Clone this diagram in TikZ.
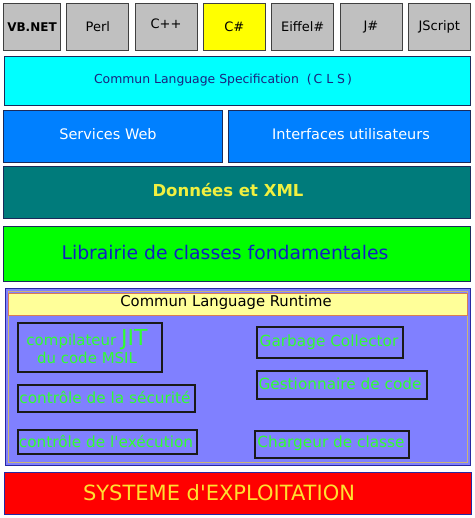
\documentclass[tikz,border=0pt]{standalone}
\usepackage{fontspec}
\setmainfont{DejaVu Sans}
\usetikzlibrary{positioning}
\definecolor{langgrey}{HTML}{C0C0C0}
\definecolor{csyellow}{HTML}{FFFF00}
\definecolor{clscyan}{HTML}{00FFFF}
\definecolor{clsblue}{HTML}{1A237E}
\definecolor{webblue}{HTML}{0080FF}
\definecolor{xmlteal}{HTML}{007B7B}
\definecolor{xmlyellow}{HTML}{F0F040}
\definecolor{libgreen}{HTML}{00FF00}
\definecolor{libblue}{HTML}{1020C0}
\definecolor{clrfill}{HTML}{8080FF}
\definecolor{clrline}{HTML}{2828A0}
\definecolor{clrtan}{HTML}{C8B478}
\definecolor{clrtitle}{HTML}{FFFF99}
\definecolor{clrtext}{HTML}{30FF30}
\definecolor{osred}{HTML}{FF0000}
\definecolor{osyellow}{HTML}{FFE030}
\definecolor{navyline}{HTML}{1A2A5A}

\begin{document}
\begin{tikzpicture}[x=1pt,y=-1pt,node distance=5.3pt,
  lang/.style={draw=black!75,fill=langgrey,line width=1pt,minimum width=62pt,
    minimum height=47pt,inner sep=0pt,font=\fontsize{13}{15}\selectfont},
  layer/.style={draw=navyline,line width=1pt,inner sep=0pt,anchor=north west},
  clrpart/.style={draw=black!90,line width=1.6pt,inner sep=0pt,anchor=north west},
  clrlabel/.style={text=clrtext,font=\fontsize{15.3}{17}\selectfont}]
  \useasboundingbox (0,0) rectangle (474,518);

  % langages
  \node[lang,anchor=north west,minimum width=57pt] (vb) at (3,3) {\bfseries\fontsize{12}{14}\selectfont VB.NET};
  \node[lang] (perl) [right=of vb] {Perl};
  \node[lang] (cpp) [right=of perl] {\raisebox{6pt}{C++}};
  \node[lang,fill=csyellow] (cs) [right=of cpp] {C\#};
  \node[lang] (eiffel) [right=of cs] {Eiffel\#};
  \node[lang] (jsharp) [right=of eiffel] {J\#};
  \node[lang] (jscript) [right=of jsharp] {JScript};

  % couches du framework
  \node[layer,fill=clscyan,minimum width=466pt,minimum height=49pt] (cls) at (4,56) {};
  \node[text=clsblue,font=\fontsize{12.4}{14}\selectfont] (clstext) at (223,80)
    {Commun Language Specification \ (\,C L S\,)};

  \node[layer,fill=webblue,minimum width=219pt,minimum height=52pt] (web) at (3,110) {};
  \node[text=white,font=\fontsize{14.5}{17}\selectfont] (webtext) at (108,134) {Services Web};
  \node[layer,fill=webblue,minimum width=242pt,minimum height=52pt] (ui) at (228,110) {};
  \node[text=white,font=\fontsize{14.5}{17}\selectfont] (uitext) at (351,134) {Interfaces utilisateurs};

  \node[layer,fill=xmlteal,minimum width=467pt,minimum height=52pt] (xml) at (3,166) {};
  \node[text=xmlyellow,font=\fontsize{16.5}{19}\selectfont\bfseries] (xmltext) at (228,190) {Données et XML};

  \node[layer,fill=libgreen,minimum width=467pt,minimum height=55pt] (lib) at (3,226) {};
  \node[text=libblue,font=\fontsize{18.8}{22}\selectfont] (libtext) at (225,252) {Librairie de classes fondamentales};

  % CLR
  \node[layer,draw=clrline,fill=clrfill,line width=1.3pt,minimum width=465pt,minimum height=177pt] (clr) at (5,288) {};
  \node[layer,draw=clrtan,line width=1pt,minimum width=459pt,minimum height=171pt] (clrin) at (8,291) {};
  \node[layer,draw=clrtan!70!red,fill=clrtitle,line width=0.8pt,minimum width=459pt,minimum height=22pt] (clrtitlebar) at (8,293) {};
  \node[font=\fontsize{14.8}{17}\selectfont] (clrtitletext) at (226,302) {Commun Language Runtime};

  \node[clrpart,minimum width=144pt,minimum height=49pt] (jit) at (17,322) {};
  \node[clrlabel,align=center,font=\fontsize{15}{17}\selectfont] (jittext) at (87,347)
    {compilateur {\fontsize{22}{22}\selectfont JIT}\\[1pt]du code MSIL};
  \node[clrpart,minimum width=177pt,minimum height=27pt] (secu) at (17,384) {};
  \node[clrlabel] (secutext) at (105,397) {contrôle de la sécurité};
  \node[clrpart,minimum width=179pt,minimum height=24pt] (exec) at (17,429) {};
  \node[clrlabel] (exectext) at (106,441) {contrôle de l\textquotesingle exécution};

  \node[clrpart,minimum width=146pt,minimum height=31pt] (gc) at (256,326) {};
  \node[clrlabel] (gctext) at (329,342) {Garbage Collector};
  \node[clrpart,minimum width=170pt,minimum height=28pt] (codemgr) at (256,370) {};
  \node[clrlabel] (codemgrtext) at (340,384) {Gestionnaire de code};
  \node[clrpart,minimum width=154pt,minimum height=27pt] (loader) at (254,430) {};
  \node[clrlabel] (loadertext) at (331,443) {Chargeur de classe};

  % systeme
  \node[layer,draw=clrline,fill=osred,minimum width=467pt,minimum height=42pt] (os) at (4,472) {};
  \node[text=osyellow,font=\fontsize{21}{24}\selectfont] (ostext) at (219,493) {SYSTEME d\textquotesingle EXPLOITATION};
\end{tikzpicture}
\end{document}
